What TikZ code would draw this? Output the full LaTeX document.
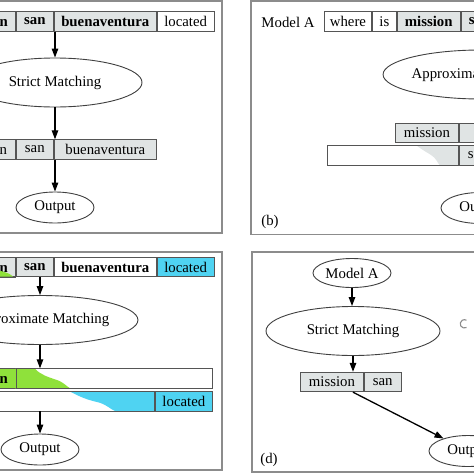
\documentclass[tikz,border=0pt]{standalone}
\usepackage{fontspec}
\setmainfont{Liberation Serif}
\usetikzlibrary{arrows.meta,shapes.geometric}
\definecolor{cellgray}{HTML}{E0E4E4}
\definecolor{cellline}{HTML}{555555}
\definecolor{framegray}{HTML}{8C8C8C}
\definecolor{limefill}{HTML}{8FE13B}
\definecolor{cyanfill}{HTML}{4FD3F2}

\begin{document}
\begin{tikzpicture}[x=1pt, y=-1pt,
		every node/.style={font=\fontsize{14.8}{17}\selectfont, inner sep=0},
		bold/.style={font=\fontsize{14.8}{17}\selectfont\bfseries},
		cell/.style={draw=cellline, fill=cellgray, line width=0.9, minimum height=19.5, anchor=west},
		blank/.style={cell, fill=white},
		bar/.style={cell, fill=none},
		oval/.style={ellipse, draw=black!75, line width=0.9, fill=white},
		matcher/.style={oval, minimum width=174, minimum height=49},
		small/.style={oval, minimum width=78, minimum height=31},
		frame/.style={draw=framegray, line width=1.6},
		arr/.style={-{Triangle[length=9,width=6.5]}, line width=1.3}]

		\useasboundingbox (0,0) rectangle (474,474);
		\clip (0,0) rectangle (474,474);

		% (a) strict matching
		\draw[frame] (-300,1) rectangle (222,233);
		\node[cell, bold, minimum width=63] (misA1) at (-48,21.5) {mission};
		\node[cell, bold, minimum width=37] (sanA1) at (misA1.east) {san};
		\node[cell, bold, minimum width=102] (bueA1) at (sanA1.east) {buenaventura};
		\node[blank, minimum width=57] (locA1) at (bueA1.east) {located};
		\node[matcher] (strA) at (55,82.5) {Strict Matching};
		\node[cell, minimum width=63] (misA2) at (-48,149.5) {mission};
		\node[cell, minimum width=37] (sanA2) at (misA2.east) {san};
		\node[cell, minimum width=102] (bueA2) at (sanA2.east) {buenaventura};
		\node[small] (outA) at (55,207.5) {Output};

		\draw[arr] (strA.north |- bueA1.south) -- (strA.north);
		\draw[arr] (strA.south) -- (strA.south |- bueA2.north);
		\draw[arr] (outA.north |- bueA2.south) -- (outA.north);

		% (b) approximate matching
		\draw[frame] (251,1) rectangle (800,234.5);
		\node (modB) at (288,22) {Model A};
		\node[blank, minimum width=47] (wheB) at (324,21.5) {where};
		\node[blank, minimum width=24] (isB) at (wheB.east) {is};
		\node[cell, bold, minimum width=63] (misB1) at (isB.east) {mission};
		\node[cell, bold, minimum width=37] (sanB1) at (misB1.east) {san};
		\node[matcher] (appB) at (481,74.5) {Approximate Matching};
		\node[cell, minimum width=63] (misB2) at (395,133) {mission};
		\node[cell, minimum width=37] (sanB2) at (misB2.east) {};
		\fill[cellgray] (416.5,145.5) .. controls (424,151) and (428,153) .. (431,155)
			.. controls (436,158) and (437,162) .. (439.5,165) -- (458,165) -- (458,145.5) -- cycle;
		\node[bar, minimum width=131] (barB3) at (327,155.5) {};
		\node[cell, minimum width=37] (sanB3) at (barB3.east) {san};
		\node[small] (outB) at (480,208) {Output};
		\node (labB) at (270,222) {(b)};

		% (c) approximate matching, coloured spans
		\draw[frame] (-300,252) rectangle (222,470);
		\node[cell, bold, minimum width=63] (misC1) at (-48,267) {mission};
		\fill[limefill] (-20,268.5) .. controls (0,270) and (8,272) .. (13,276.5) -- (-48,276.5) -- cycle;
		\draw[cellline, line width=0.9] (misC1.south west) -- (misC1.south east);
		\node[cell, bold, minimum width=37] (sanC1) at (misC1.east) {san};
		\node[blank, bold, minimum width=102] (bueC1) at (sanC1.east) {buenaventura};
		\node[cell, fill=cyanfill, minimum width=57] (locC1) at (bueC1.east) {located};
		\node[matcher] (appC) at (40,320) {Approximate Matching};
		\node[cell, bold, fill=limefill, minimum width=63] (misC2) at (-48,378.5) {mission};
		\fill[limefill] (15,368.75) -- (35,368.75) .. controls (41,375) and (48,377) .. (57,380)
			.. controls (64,382.5) and (66,386) .. (70,388.25) -- (15,388.25) -- cycle;
		\node[bar, minimum width=196] (barC2) at (misC2.east) {};
		\fill[cyanfill] (70,391.5) .. controls (80,397) and (88,400) .. (97,402)
			.. controls (106,404) and (110,409) .. (115,411) -- (154,411) -- (154,391.5) -- cycle;
		\node[bar, minimum width=202] (barC3) at (-48,401.25) {};
		\node[cell, fill=cyanfill, minimum width=57] (locC3) at (barC3.east) {located};
		\node[small] (outC) at (40,449.5) {Output};

		\draw[arr] (appC.north |- sanC1.south) -- (appC.north);
		\draw[arr] (appC.south) -- (appC.south |- barC2.north);
		\draw[arr] (outC.north |- barC3.south) -- (outC.north);

		% (d) strict matching on model output
		\draw[frame] (252,252) rectangle (800,472);
		\node[small, minimum height=29] (modD) at (352,273) {Model A};
		\node[matcher] (strD) at (353,331) {Strict Matching};
		\node[cell, minimum width=62.5] (misD) at (300.3,382) {mission};
		\node[cell, minimum width=37] (sanD) at (misD.east) {san};
		\node[small] (outD) at (468,451) {Output};
		\node (labD) at (269,460) {(d)};
		\draw[framegray, line width=1.1] (466.5,327.5) arc[start angle=60, end angle=300, radius=4.2];

		\draw[arr] (modD.south) -- (modD.south |- strD.north);
		\draw[arr] (strD.south) -- (strD.south |- misD.north);
		\draw[arr] (strD.south |- misD.south) -- (outD);

\end{tikzpicture}
\end{document}
